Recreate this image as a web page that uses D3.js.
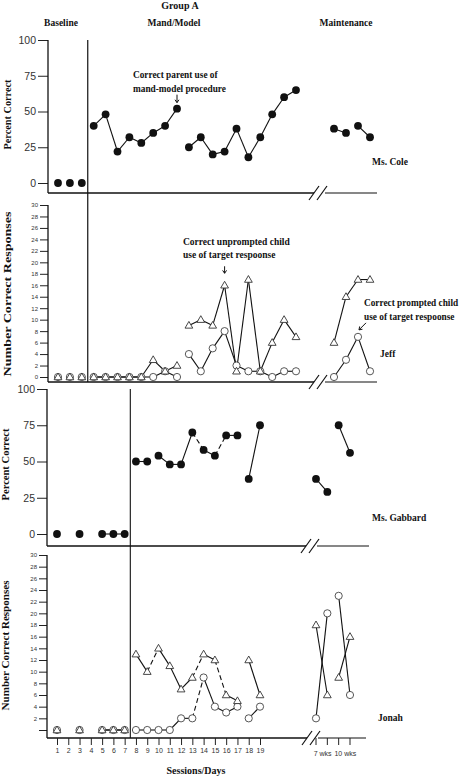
<!DOCTYPE html>
<html>
<head>
<meta charset="utf-8">
<script src="https://cdn.jsdelivr.net/npm/d3@7"></script>
<style>
  body { margin: 0; background: #fff; }
  svg { display: block; }
  .lbl { font-family: "Liberation Serif", "DejaVu Serif", serif; font-weight: bold; fill: #111; }
  .tick text { font-family: "Liberation Sans", Arial, sans-serif; fill: #333; }
</style>
</head>
<body>
<script>
// ---- data ----
const topSessions = [1, 2, 3, 4, 5, 6, 7, 8, 9, 10, 11, 12, 13, 14, 15, 16, 17, 18, 19, 20, 21];
const coleValues = [0, 0, 0, 40, 48, 22, 32, 28, 35, 40, 52, 25, 32, 20, 22, 38, 18, 32, 48, 60, 65];
const jeffUnprompted = [0, 0, 0, 0, 0, 0, 0, 0, 3, 1, 2, 9, 10, 9, 16, 1, 17, 1, 6, 10, 7];
const jeffPrompted = [0, 0, 0, 0, 0, 0, 0, 0, 0, 1, 0, 4, 1, 5, 8, 2, 1, 1, 0, 1, 1];
// "s" solid, "d" dashed, "" no line between neighbouring points
const topLinks = ["", "", "", "s", "s", "s", "s", "s", "s", "s", "", "s", "s", "s", "s", "s", "s", "s", "s", "s"];

const maintSlots = ["m1", "m2", "m3", "m4"];
const maintLabels = ["7 wks", "10 wks"];
const coleMaint = [38, 35, 40, 32];
const jeffMaintUnprompted = [6, 14, 17, 17];
const jeffMaintPrompted = [0, 3, 7, 1];

const botSessions = [1, 3, 5, 6, 7, 8, 9, 10, 11, 12, 13, 14, 15, 16, 17, 18, 19];
const gabbardValues = [0, 0, 0, 0, 0, 50, 50, 54, 48, 48, 70, 58, 54, 68, 68, 38, 75];
const gabbardLinks = ["", "", "s", "s", "", "s", "", "s", "s", "s", "d", "s", "d", "s", "", "s"];
const jonahPrompted = [0, 0, 0, 0, 0, 0, 0, 0, 0, 2, 2, 9, 4, 3, 4, 2, 4];
const jonahPromptedLinks = ["", "", "s", "s", "", "s", "s", "s", "s", "s", "d", "s", "s", "s", "", "s"];
const jonahUnprompted = [0, 0, 0, 0, 0, 13, 10, 14, 11, 7, 9, 13, 12, 6, 5, 12, 6];
const jonahUnpromptedLinks = ["", "", "s", "s", "", "s", "d", "s", "s", "s", "d", "s", "d", "s", "", "s"];
const gabbardMaint = [38, 29, 75, 56];
const jonahMaintPrompted = [2, 20, 23, 6];
const jonahMaintUnprompted = [18, 6, 9, 16];
const pairLinks = ["s", "", "s"];
const chainLinks = ["s", "s", "s"];

const axisSessions = [1, 2, 3, 4, 5, 6, 7, 8, 9, 10, 11, 12, 13, 14, 15, 16, 17, 18, 19];
const percentTicks = [0, 25, 50, 75, 100];
const countTicks = [0, 2, 4, 6, 8, 10, 12, 14, 16, 18, 20, 22, 24, 26, 28, 30];

// ---- layout ----
const width = 474, height = 776;
const svg = d3.select("body").append("svg").attr("width", width).attr("height", height);

const xTop = d3.scaleLinear().domain([1, 21]).range([58, 296]);
const xTopM = d3.scalePoint().domain(maintSlots).range([334, 370]);
const xBot = d3.scaleLinear().domain([1, 19]).range([57, 260]);
const xBotM = d3.scalePoint().domain(maintSlots).range([316, 350]);

const yCole = d3.scaleLinear().domain([0, 100]).range([183, 40]);
const yJeff = d3.scaleLinear().domain([0, 30]).range([377, 205]);
const yGab = d3.scaleLinear().domain([0, 100]).range([534, 389]);
const yJonah = d3.scaleLinear().domain([0, 30]).range([730, 555]);

const panels = [
  { y: yCole, base: 193, left: 48, right: 377, brk: 318, ticks: percentTicks, tsize: 10, fsize: 10.5, title: "Percent Correct", tlen: 70, tx: 11 },
  { y: yJeff, base: 382, left: 48, right: 377, brk: 318, ticks: countTicks, tsize: 8, fsize: 6, title: "Number Correct Responses", tlen: 165, tx: 11 },
  { y: yGab, base: 546, left: 47, right: 369, brk: 310, ticks: percentTicks, tsize: 10, fsize: 10.5, title: "Percent Correct", tlen: 72, tx: 9 },
  { y: yJonah, base: 738, left: 47, right: 366, brk: 311, ticks: countTicks, tsize: 8, fsize: 6, title: "Number Correct Responses", tlen: 130, tx: 9, hideZero: true }
];

panels.forEach(p => {
  const g = svg.append("g");
  const ax = d3.axisLeft(p.y).tickValues(p.ticks).tickSize(p.tsize).tickPadding(2)
    .tickFormat(d => (p.hideZero && d === 0) ? "" : String(d));
  const ag = g.append("g").attr("transform", `translate(${p.left},0)`).call(ax);
  ag.select(".domain").remove();
  ag.selectAll("line").attr("stroke", "#222").attr("stroke-width", 1);
  ag.selectAll("text").style("font-size", p.fsize + "px");

  // vertical axis line
  g.append("line").attr("x1", p.left).attr("x2", p.left)
    .attr("y1", p.y.range()[1]).attr("y2", p.base)
    .attr("stroke", "#111").attr("stroke-width", 1.3);

  // horizontal axis with break
  g.append("line").attr("x1", p.left).attr("x2", p.brk - 4).attr("y1", p.base).attr("y2", p.base)
    .attr("stroke", "#111").attr("stroke-width", 1.3);
  g.append("line").attr("x1", p.brk + 7).attr("x2", p.right).attr("y1", p.base).attr("y2", p.base)
    .attr("stroke", "#111").attr("stroke-width", 1.1);
  [-9, -1].forEach(o => {
    g.append("line")
      .attr("x1", p.brk + o).attr("y1", p.base + 7)
      .attr("x2", p.brk + o + 10).attr("y2", p.base - 7)
      .attr("stroke", "#111").attr("stroke-width", 1.2);
  });

  // y title
  const cy = (p.y.range()[1] + p.y.range()[0]) / 2 + 3;
  g.append("text").attr("class", "lbl")
    .attr("transform", `translate(${p.tx},${cy}) rotate(-90)`)
    .attr("text-anchor", "middle")
    .attr("textLength", p.tlen).attr("lengthAdjust", "spacingAndGlyphs")
    .style("font-size", "10px")
    .text(p.title);
});

// bottom session axis
const bx = d3.axisBottom(xBot).tickValues(axisSessions).tickSize(7).tickPadding(3).tickFormat(d => d);
const bxg = svg.append("g").attr("transform", "translate(0,738)").call(bx);
bxg.select(".domain").remove();
bxg.selectAll("line").attr("stroke", "#222");
bxg.selectAll("text").style("font-size", "7px");

svg.append("g").selectAll("line").data(maintSlots).join("line")
  .attr("x1", d => xBotM(d)).attr("x2", d => xBotM(d))
  .attr("y1", 738).attr("y2", 745).attr("stroke", "#222");
svg.append("g").selectAll("text").data(maintLabels).join("text")
  .attr("x", (d, i) => (xBotM(maintSlots[i * 2]) + xBotM(maintSlots[i * 2 + 1])) / 2 + 1)
  .attr("y", 756)
  .attr("text-anchor", "middle")
  .style("font-family", "'Liberation Sans', Arial, sans-serif")
  .style("font-size", "7px").attr("fill", "#333")
  .text(d => d);

// phase change lines
svg.append("line")
  .attr("x1", (xTop(3) + xTop(4)) / 2).attr("x2", (xTop(3) + xTop(4)) / 2)
  .attr("y1", yCole(100)).attr("y2", 382)
  .attr("stroke", "#111").attr("stroke-width", 1.2);
svg.append("line")
  .attr("x1", (xBot(7) + xBot(8)) / 2).attr("x2", (xBot(7) + xBot(8)) / 2)
  .attr("y1", yGab(100)).attr("y2", 738)
  .attr("stroke", "#111").attr("stroke-width", 1.1);

// ---- series ----
function plot(keys, values, links, x, y) {
  const g = svg.append("g");
  links.forEach((l, i) => {
    if (!l) return;
    g.append("line")
      .attr("x1", x(keys[i])).attr("y1", y(values[i]))
      .attr("x2", x(keys[i + 1])).attr("y2", y(values[i + 1]))
      .attr("stroke", "#111").attr("stroke-width", 1.1)
      .attr("stroke-dasharray", l === "d" ? "5,3" : null);
  });
  return g;
}

function markers(keys, values, x, y, kind) {
  const g = svg.append("g");
  const pts = keys.map((k, i) => ({ k, v: values[i] }));
  if (kind === "dot") {
    g.selectAll("circle").data(pts).join("circle")
      .attr("cx", d => x(d.k)).attr("cy", d => y(d.v)).attr("r", 3.9).attr("fill", "#111");
  } else if (kind === "ring") {
    g.selectAll("circle").data(pts).join("circle")
      .attr("cx", d => x(d.k)).attr("cy", d => y(d.v)).attr("r", 3.6)
      .attr("fill", "#fff").attr("stroke", "#444").attr("stroke-width", 0.9);
  } else {
    const tri = d3.symbol(d3.symbolTriangle, 26);
    g.selectAll("path").data(pts).join("path")
      .attr("transform", d => `translate(${x(d.k)},${y(d.v) + 0.5})`)
      .attr("d", tri).attr("fill", "#fff").attr("stroke", "#333").attr("stroke-width", 0.9);
  }
}

// Ms. Cole
plot(topSessions, coleValues, topLinks, xTop, yCole);
plot(maintSlots, coleMaint, pairLinks, xTopM, yCole);
markers(topSessions, coleValues, xTop, yCole, "dot");
markers(maintSlots, coleMaint, xTopM, yCole, "dot");

// Jeff
plot(topSessions, jeffPrompted, topLinks, xTop, yJeff);
plot(topSessions, jeffUnprompted, topLinks, xTop, yJeff);
plot(maintSlots, jeffMaintPrompted, chainLinks, xTopM, yJeff);
plot(maintSlots, jeffMaintUnprompted, chainLinks, xTopM, yJeff);
markers(topSessions, jeffPrompted, xTop, yJeff, "ring");
markers(maintSlots, jeffMaintPrompted, xTopM, yJeff, "ring");
markers(topSessions, jeffUnprompted, xTop, yJeff, "tri");
markers(maintSlots, jeffMaintUnprompted, xTopM, yJeff, "tri");

// Ms. Gabbard
plot(botSessions, gabbardValues, gabbardLinks, xBot, yGab);
plot(maintSlots, gabbardMaint, pairLinks, xBotM, yGab);
markers(botSessions, gabbardValues, xBot, yGab, "dot");
markers(maintSlots, gabbardMaint, xBotM, yGab, "dot");

// Jonah
plot(botSessions, jonahPrompted, jonahPromptedLinks, xBot, yJonah);
plot(botSessions, jonahUnprompted, jonahUnpromptedLinks, xBot, yJonah);
plot(maintSlots, jonahMaintPrompted, pairLinks, xBotM, yJonah);
plot(maintSlots, jonahMaintUnprompted, pairLinks, xBotM, yJonah);
markers(botSessions, jonahPrompted, xBot, yJonah, "ring");
markers(maintSlots, jonahMaintPrompted, xBotM, yJonah, "ring");
markers(botSessions, jonahUnprompted, xBot, yJonah, "tri");
markers(maintSlots, jonahMaintUnprompted, xBotM, yJonah, "tri");

// ---- text ----
function label(txt, x, y, size, anchor) {
  svg.append("text").attr("class", "lbl")
    .attr("x", x).attr("y", y)
    .attr("text-anchor", anchor || "start")
    .style("font-size", size + "px")
    .text(txt);
}

label("Group A", 180, 9, 10, "middle");
label("Baseline", 61, 26, 9.5, "middle");
label("Mand/Model", 174, 26, 9.5, "middle");
label("Maintenance", 346, 26, 9.5, "middle");

label("Correct parent use of", 133, 78, 9.3);
label("mand-model procedure", 133, 92, 9.3);
label("Ms. Cole", 372, 165, 9.5);

label("Correct unprompted child", 183, 245, 9.5);
label("use of target respoonse", 183, 258, 9.5);
label("Correct prompted child", 364, 306, 9.3);
label("use of target respoonse", 364, 320, 9.3);
label("Jeff", 380, 357, 9.5);

label("Ms. Gabbard", 372, 521, 9.5);
label("Jonah", 378, 721, 9.5);
label("Sessions/Days", 196, 774, 10, "middle");

// arrows
function arrow(x1, y1, x2, y2) {
  const a = Math.atan2(y2 - y1, x2 - x1);
  svg.append("line").attr("x1", x1).attr("y1", y1).attr("x2", x2).attr("y2", y2)
    .attr("stroke", "#111").attr("stroke-width", 1);
  const h = 3.5;
  svg.append("path")
    .attr("d", `M${x2 - h * Math.cos(a - 0.6)},${y2 - h * Math.sin(a - 0.6)}L${x2},${y2}L${x2 - h * Math.cos(a + 0.6)},${y2 - h * Math.sin(a + 0.6)}`)
    .attr("fill", "none").attr("stroke", "#111").attr("stroke-width", 1);
}
arrow(xTop(11), yCole(52) - 14, xTop(11), yCole(52) - 6);
arrow(xTop(15), yJeff(16) - 19, xTop(15), yJeff(16) - 12);
arrow(xTopM("m3") + 8, yJeff(7) - 14, xTopM("m3") + 1, yJeff(7) - 7);
</script>
</body>
</html>
